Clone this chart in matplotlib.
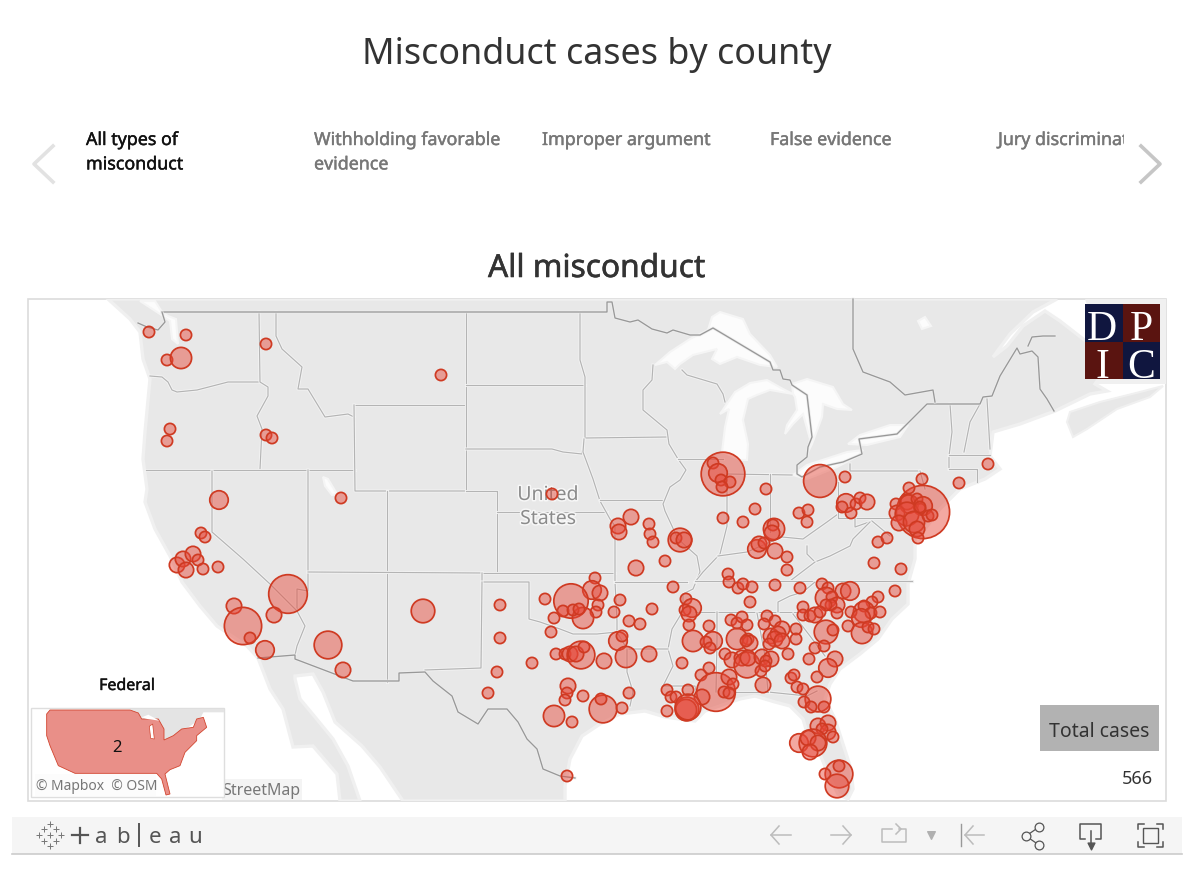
import numpy as np
import matplotlib
matplotlib.use("Agg")
import matplotlib.pyplot as plt
from matplotlib.patches import Polygon, Rectangle
import matplotlib.patheffects as pe

plt.rcParams['font.family'] = ['Noto Sans', 'DejaVu Sans']

# ---------- data ----------
chart_title = "Misconduct cases by county"
map_title = "All misconduct"
tabs = ["All types of\nmisconduct", "Withholding favorable\nevidence", "Improper argument",
        "False evidence", "Jury discrimination"]
total_cases = "566"
federal_cases = "2"

county_x = [149,186,167,181,266,170,167,266,272,219,341,201,205,441,
            177,183,186,193,198,203,218,288,234,274,243,250,265,328,343,423,
            552,631,618,619,649,650,653,680,676,684,665,636,673,595,592,600,545,571,598,596,583,563,573,579,554,
            620,614,652,629,640,500,500,551,618,622,556,565,570,581,576,584,604,626,649,532,497,682,568,567,565,
            583,629,488,603,601,622,554,572,567,
            686,692,685,689,689,709,693,713,706,710,728,729,738,743,752,750,775,800,822,828,843,850,895,878,872,
            826,832,837,831,826,837,803,803,810,815,820,864,864,851,871,880,861,848,862,868,874,
            731,737,742,747,737,748,750,746,767,775,764,782,771,778,775,782,769,796,796,826,833,815,824,788,809,
            835,828,817,725,732,742,747,748,762,771,766,761,765,709,701,716,729,733,724,729,702,763,
            667,671,676,688,687,686,688,667,791,794,797,803,818,804,811,824,818,828,828,822,833,799,813,808,818,810,
            839,839,825,837,
            723,713,718,721,730,722,723,820,766,755,743,774,773,772,799,808,807,845,846,842,851,856,860,867,
            757,759,764,775,787,787,878,887,874,901,922,959,988,
            923,909,896,907,909,917,923,920,897,907,899,914,917,918,928,932,920]
county_y = [333,336,361,359,345,430,442,436,439,501,499,534,538,376,
            566,560,571,555,561,570,568,595,607,616,627,639,651,646,671,612,
            495,518,527,533,525,535,543,541,539,541,562,569,588,579,591,594,600,602,606,613,619,612,611,610,619,
            601,613,610,622,625,606,639,633,642,637,655,655,655,656,655,648,662,658,655,664,673,664,687,694,701,
            697,694,694,710,700,709,717,723,777,
            600,609,611,615,626,627,642,642,643,649,575,583,589,585,588,603,586,589,585,589,592,592,592,598,603,
            599,598,606,606,606,614,608,616,617,616,613,613,607,613,614,613,619,627,634,628,630,
            621,624,618,626,640,640,644,642,617,622,625,630,637,635,640,642,645,630,640,633,631,649,647,655,660,
            660,669,678,655,661,659,666,659,658,660,662,672,667,669,676,693,678,685,693,694,698,686,
            691,698,698,691,710,711,708,712,679,676,688,690,700,703,708,708,727,724,733,730,738,744,744,739,744,753,
            775,767,775,787,
            475,464,474,481,483,488,519,482,490,510,523,530,526,534,514,511,523,478,504,508,514,505,499,503,
            550,545,544,552,558,571,543,539,564,570,480,484,465,
            513,489,505,503,505,500,507,510,514,515,524,523,530,539,517,516,508]
county_cases = [1,1,1,4,1,1,1,1,1,3,1,1,1,1,
                2,2,2,2,1,1,1,14,2,2,13,1,3,7,2,5,
                1,2,2,2,1,1,1,5,1,2,1,2,1,1,3,2,1,11,1,1,4,1,1,1,1,
                1,1,1,1,1,1,1,1,3,1,1,1,2,7,2,1,2,4,2,1,1,1,2,1,1,
                1,1,1,7,1,1,4,1,1,
                1,3,1,2,1,1,4,3,1,1,1,1,1,1,1,1,1,1,1,1,2,3,1,1,1,
                4,1,2,1,1,1,1,1,1,2,1,4,1,1,1,1,3,1,4,1,1,
                1,1,1,1,4,1,2,1,1,1,1,2,2,2,2,2,1,1,1,5,1,1,1,1,1,
                2,3,1,1,2,2,6,2,2,2,1,1,1,1,1,14,2,1,1,1,2,2,
                1,1,1,1,5,4,6,1,1,1,1,1,6,1,1,1,2,2,2,1,1,3,7,2,2,2,
                7,1,1,5,
                18,1,3,1,1,1,1,10,1,1,1,4,1,2,1,1,1,1,3,1,1,1,1,2,
                3,2,1,2,1,1,1,1,1,1,1,1,1,
                27,1,1,2,3,1,3,1,2,5,2,4,2,1,1,1,1]

# base-map geography, in projected map units
land_outline = [(108,300),(130,320),(140,333),(143,360),(150,380),(145,433),(143,460),(147,490),(145,503),(155,530),
    (170,557),(182,583),(200,607),(217,627),(247,647),(258,659),(270,690),(283,710),(293,748),(313,747),(337,775),
    (340,802),(360,802),(348,767),(333,740),(315,718),(300,700),(295,680),(295,677),(313,675),(323,693),(335,723),
    (362,747),(380,768),(403,802),(565,802),(565,787),(570,760),(582,737),(600,725),(620,715),(645,712),(665,718),
    (680,720),(695,722),(705,712),(725,705),(740,700),(755,697),(775,703),(790,707),(803,720),(808,737),(820,755),
    (828,775),(838,795),(848,800),(853,790),(851,770),(843,745),(835,720),(825,700),(830,685),(840,670),(860,655),
    (878,640),(892,620),(908,605),(908,585),(915,560),(915,540),(925,530),(940,510),(960,490),(985,480),(1000,470),
    (990,457),(993,433),(1020,425),(1055,412),(1090,395),(1107,392),(1095,385),(1100,378),(1110,345),(1087,343),
    (1060,322),(1045,312),(1023,327),(1007,347),(993,358),(1010,335),(1033,313),(1057,300)]
nova_scotia = [(1067,423),(1070,413),(1100,403),(1140,393),(1163,387),(1150,398),(1117,410),(1087,430),(1073,438)]
pale_canada = [(1085,300),(1166,300),(1166,385),(1097,385),(1100,345)]
superior = [(655,366),(670,353),(690,340),(708,331),(712,318),(720,313),(743,320),(750,335),(770,356),(777,368),
    (760,366),(737,358),(720,365),(712,360),(717,350),(693,356),(680,365),(675,370),(667,363)]
michigan = [(722,453),(725,428),(729,410),(720,415),(735,393),(750,384),(767,381),(783,390),(793,395),(770,391),
    (757,396),(748,400),(743,421),(748,445),(747,461),(740,461),(727,455)]
huron = [(793,395),(792,385),(807,380),(833,388),(843,405),(852,411),(837,410),(823,405),(822,418),(812,445),
    (807,455),(810,440),(803,415),(793,425),(785,435),(787,426),(797,411),(795,398)]
erie = [(793,476),(807,466),(847,453),(863,451),(858,457),(837,468),(820,475),(807,480)]
ontario = [(848,445),(860,436),(890,426),(908,426),(900,438),(867,446)]
salt_lake = [(323,478),(328,480),(337,495),(332,496),(325,487)]
puget = [(140,302),(155,302),(162,313),(168,317),(176,320),(178,345),(172,340),(170,322),(160,315)]
upper_water = [(918,322),(925,318),(931,327),(922,330)]

intl_borders = [
    [(162,313),(607,313),(607,303),(612,303),(615,319),(630,323),(638,321),(652,330),(667,334),(673,331),(690,336),
     (700,336),(713,329),(770,363),(773,371),(780,371),(783,380),(790,381),(792,386),(807,396),(812,438),(808,448),
     (807,458),(797,466),(797,475),(802,478),(820,468),(843,463),(862,455),(859,440),(897,435),(927,405),(980,405),
     (983,398),(992,397),(1000,377),(1017,349),(1020,355),(1032,352),(1038,358),(1040,390),(1047,400),(1054,412)],
    [(138,324),(147,328),(158,331),(165,323),(162,313)],
    [(258,659),(295,656),(295,660),(353,682),(387,682),(399,682),(399,674),(425,673),(433,682),(452,697),(458,713),
     (478,725),(488,710),(507,710),(518,723),(527,740),(537,750),(543,770),(560,777),(575,779)],
    [(853,300),(853,350),(863,373),(890,383),(905,396),(933,391),(935,403)],
    [(1028,347),(1032,338),(1043,337),(1055,337)],
]
state_borders = [
    [(150,377),(162,378),(168,383),(172,391),(177,393),(197,391),(228,383),(260,383)],
    [(259,313),(260,383),(268,388),(268,397),(257,417),(262,430),(260,470)],
    [(146,471),(355,471)],
    [(276,313),(276,337),(282,350),(302,368),(298,390),(308,390),(325,418),(348,415),(354,418)],
    [(354,406),(466,406)], [(354,406),(355,492),(466,492)], [(466,313),(466,492)],
    [(466,386),(585,386)], [(466,450),(552,450),(563,453),(582,455),(584,440)],
    [(466,492),(497,492),(497,574)], [(497,513),(607,513)], [(387,492),(387,683)],
    [(308,471),(308,592),(297,590),(297,612)], [(308,573),(482,574)], [(482,574),(615,574)],
    [(482,574),(482,583),(529,583),(529,620),(540,623),(560,630),(573,635),(597,635),(617,633),(617,622),(615,583)],
    [(482,583),(481,669),(425,671)],
    [(212,472),(212,533),(243,560),(270,585),(297,612),(305,627),(297,647),(295,656)],
    [(580,313),(580,361),(585,378),(585,439),(667,438)],
    [(584,440),(583,453),(593,480),(600,502),(610,520),(615,527),(615,583)],
    [(600,501),(662,501)],
    [(653,366),(652,381),(643,391),(643,411),(667,431),(669,445),(678,460),(686,471),(680,481),(670,488),(663,505),
     (665,512),(678,540),(697,557),(700,573),(693,590),(683,595),(683,612),(672,630),(668,650),(673,667),(663,687),(695,687),(697,697)],
    [(682,371),(687,376),(717,385),(723,395),(725,403)], [(678,460),(723,460)],
    [(615,583),(687,583)], [(617,633),(627,650),(668,650)], [(627,650),(627,673),(633,693),(630,707)],
    [(727,475),(727,527),(720,555),(703,573),(695,583)], [(727,475),(792,476)], [(770,475),(770,533)],
    [(718,557),(747,553),(782,538),(803,540),(810,535),(827,523),(838,515)],
    [(838,483),(838,519),(890,519)], [(850,465),(850,472),(920,472),(928,480)],
    [(855,519),(855,528),(872,522),(890,537)], [(807,547),(807,555),(815,563),(830,557),(850,547),(853,540),(870,523)],
    [(815,563),(790,582)], [(695,582),(912,582)], [(695,613),(797,613)],
    [(778,613),(778,603),(790,597),(803,593),(815,583)], [(793,615),(810,637),(825,657)],
    [(757,614),(765,657),(768,693),(807,697),(817,692)], [(717,613),(717,640),(716,693)], [(735,693),(768,693)],
    [(950,405),(952,433),(949,457),(949,470)], [(980,405),(970,423),(964,453)], [(949,456),(990,456)],
    [(949,470),(977,470),(977,483)], [(987,400),(990,450)], [(920,472),(925,490)],
]

# ---------- page ----------
fig = plt.figure(figsize=(12, 8.79), dpi=100, facecolor="white")
ax = fig.add_axes([0, 0, 1, 1])
ax.set_xlim(0, 1200)
ax.set_ylim(879, 0)
ax.axis("off")

ax.text(597, 55, chart_title, ha="center", va="center", fontsize=25.8, color="#333333")
ax.text(597, 270, map_title, ha="center", va="center", fontsize=22.8, color="#333333",
        path_effects=[pe.withStroke(linewidth=0.4, foreground="#333333")])

tab_x = [86, 314, 542, 770, 998]
tab_colors = ["#111111", "#777777", "#777777", "#777777", "#777777"]
for label, tx, tc in zip(tabs, tab_x, tab_colors):
    ax.text(tx, 132, label, ha="left", va="top", fontsize=12.85, color=tc, linespacing=1.46,
            path_effects=[pe.withStroke(linewidth=0.3, foreground=tc)])
ax.add_patch(Rectangle((1124, 125), 60, 30, fc="white", ec="none", zorder=3))
ax.plot([53, 34, 53], [147, 165, 183], color="#e2e2e2", lw=2.6, zorder=4)
ax.plot([1141, 1160, 1141], [147, 165, 183], color="#c6c6c6", lw=2.6, zorder=4)

# ---------- map ----------
frame = Rectangle((28, 300), 1138, 502, fc="white", ec="#dcdcdc", lw=1.2, zorder=1)
ax.add_patch(frame)
LAND = "#e8e8e8"
clip = Rectangle((28, 300), 1138, 502, transform=ax.transData)


def add_poly(pts, fc, z=1.2, ec="none", lw=0):
    p = Polygon(pts, closed=True, fc=fc, ec=ec, lw=lw, zorder=z)
    ax.add_patch(p)
    p.set_clip_path(clip)
    return p


add_poly(pale_canada, "#f0f0f0", 1.15)
add_poly(land_outline, LAND, 1.2, ec="#f0f0f0", lw=2.4)
add_poly(nova_scotia, LAND, 1.2, ec="#f0f0f0", lw=1.5)
for lake in (superior, michigan, huron, erie, ontario, salt_lake, puget, upper_water):
    add_poly(lake, "#fcfcfc", 1.3, ec="#f5f5f5", lw=1.5)

for seg in state_borders:
    xs, ys = zip(*seg)
    ax.plot(xs, ys, color="#b4b4b4", lw=0.85, zorder=1.5, solid_joinstyle="round",
            path_effects=[pe.Stroke(linewidth=2.2, foreground="#f3f3f3"), pe.Normal()])
for seg in intl_borders:
    xs, ys = zip(*seg)
    ax.plot(xs, ys, color="#989898", lw=0.95, zorder=1.6, solid_joinstyle="round",
            path_effects=[pe.Stroke(linewidth=2.0, foreground="#eeeeee"), pe.Normal()])

for yy, word in zip((496, 520), ("United", "States")):
    ax.text(548, yy, word, ha="center", va="center", fontsize=14, color="#8b8b8b", zorder=1.8,
            path_effects=[pe.withStroke(linewidth=2.2, foreground="#f7f7f7")])

# county bubbles: area proportional to cases
radius_px = 5.0 * np.sqrt(np.array(county_cases, dtype=float)) + 0.6
sizes = (2 * radius_px * 72 / fig.dpi) ** 2
ax.scatter(county_x, county_y, s=sizes, facecolor=(0.90, 0.28, 0.22, 0.47),
           edgecolor="#cf3a22", linewidth=1.25, zorder=2)

# logo
for (lx, ly, c) in [(1085, 305, "#10163f"), (1122.5, 305, "#5a1410"), (1085, 342.5, "#5a1410"), (1122.5, 342.5, "#10163f")]:
    ax.add_patch(Rectangle((lx, ly), 37.5, 37.5, fc=c, ec="none", zorder=3))
for (lx, ly, s) in [(1102, 325, "D"), (1141, 325, "P"), (1102, 363, "I"), (1141, 363, "C")]:
    ax.text(lx, ly, s, ha="center", va="center_baseline", fontsize=30, color="white", family="Liberation Serif", zorder=4)

# total box
ax.add_patch(Rectangle((1040, 706), 119, 46, fc="#b2b2b2", ec="none", zorder=3))
ax.text(1099.5, 732, "Total cases", ha="center", va="center", fontsize=14, color="#333333", zorder=4)
ax.text(1153, 779, total_cases, ha="right", va="center", fontsize=13, color="#333333", zorder=4)

# attribution and inset
ax.add_patch(Rectangle((222, 780), 80, 21, fc="#f4f4f4", ec="none", zorder=2.5))
ax.text(222, 791, "StreetMap", ha="left", va="center", fontsize=11.5, color="#777777", zorder=3)
ax.text(127, 687, "Federal", ha="center", va="center", fontsize=11.5, color="#111111", zorder=4,
        path_effects=[pe.withStroke(linewidth=0.3, foreground="#111111")])
ax.add_patch(Rectangle((31, 709), 193, 89, fc="white", ec="#dedede", lw=1, zorder=3))


def ins(points):
    return [(30 + a / 3, 540 + b / 3) for a, b in points]


inset_canada = [(45,510),(582,510),(582,520),(520,520),(510,540),(440,590),(395,605),(300,510)]
inset_usa = [(50,525),(60,513),(300,513),(325,522),(335,540),(385,540),(402,570),(402,603),(430,590),
             (455,570),(490,565),(500,540),(520,535),(530,565),(500,590),(500,605),(465,640),(450,680),(420,692),(405,705),
             (420,765),(408,768),(395,720),(380,703),(135,703),(85,680),(60,620),(50,590)]
inset_lake = [(358,562),(368,555),(373,600),(362,598)]
inset_superior = [(335,535),(355,527),(388,545),(352,540)]
ax.add_patch(Polygon(ins(inset_canada), fc="#e4e4e4", ec="none", zorder=3.1))
ax.add_patch(Polygon(ins(inset_usa), fc="#e98f88", ec="#d2452f", lw=0.6, zorder=3.2))
ax.add_patch(Polygon(ins(inset_lake), fc="white", ec="#d2452f", lw=0.5, zorder=3.3))
ax.add_patch(Polygon(ins(inset_superior), fc="white", ec="none", zorder=3.3))
ax.text(117, 748, federal_cases, ha="center", va="center", fontsize=12, color="#111111", zorder=4)
ax.add_patch(Rectangle((35, 775), 121, 22, fc="#fcfcfc", ec="none", zorder=3.5))
ax.text(36, 787, "© Mapbox  © OSM", ha="left", va="center", fontsize=10, color="#777777", zorder=4)

# ---------- toolbar ----------
ax.add_patch(Rectangle((12, 818), 1170, 37, fc="#f5f5f5", ec="none", zorder=1))
ax.plot([12, 1182], [855.5, 855.5], color="#cccccc", lw=1.2, zorder=1.1)
mark_xy = [(50,825),(50,836),(50,847),(44,830),(56,830),(44,842),(56,842),(39,836),(61,836)]
mxs, mys = zip(*mark_xy)
ax.scatter(mxs, mys, marker="+", s=22, color="#777777", linewidth=0.7, zorder=2)
for x_, ch in zip([101, 123, 155, 175, 195], "abeau"):
    ax.text(x_, 838, ch, ha="center", va="center", fontsize=16, color="#555555", zorder=2)
ax.plot([80, 80], [829, 844], color="#555555", lw=1.6, zorder=2)
ax.plot([72, 88], [836, 836], color="#555555", lw=1.6, zorder=2)
ax.plot([139, 139], [825, 847], color="#555555", lw=1.4, zorder=2)

G = "#bcbcbc"
D = "#555555"
ax.plot([771, 791], [836, 836], color=G, lw=1.1, zorder=2)
ax.plot([779, 771, 779], [827, 836, 845], color=G, lw=1.1, zorder=2)
ax.plot([831, 851], [836, 836], color=G, lw=1.1, zorder=2)
ax.plot([843, 851, 843], [827, 836, 845], color=G, lw=1.1, zorder=2)
ax.plot([899, 906, 906, 882, 882, 892], [830, 830, 843, 843, 830, 830], color=G, lw=1.1, zorder=2)
ax.plot([896, 901, 896], [825, 830, 835], color=G, lw=1.1, zorder=2)
ax.scatter([931], [836], marker="v", s=30, color="#b0b0b0", zorder=2)
ax.plot([961, 961], [825, 847], color="#999999", lw=1, zorder=2)
ax.plot([965, 984], [836, 836], color=G, lw=1.1, zorder=2)
ax.plot([973, 965, 973], [827, 836, 845], color=G, lw=1.1, zorder=2)
ax.scatter([1039, 1026, 1039], [828, 837, 846], s=40, facecolor="#f5f5f5", edgecolor=D, linewidth=0.9, zorder=3)
ax.plot([1039, 1026, 1039], [828, 837, 846], color=D, lw=0.9, zorder=2)
ax.plot([1085, 1080, 1080, 1101, 1101, 1096], [840, 840, 825, 825, 840, 840], color=D, lw=1.1, zorder=2)
ax.plot([1090.5, 1090.5], [832, 846], color=D, lw=1.1, zorder=2)
ax.scatter([1090.5], [847], marker="v", s=24, color=D, zorder=2)
ax.add_patch(Rectangle((1143, 829), 15, 15, fc="none", ec=D, lw=1, zorder=2))
for cx, cy, dx, dy in [(1138, 825, 1, 1), (1163, 825, -1, 1), (1138, 848, 1, -1), (1163, 848, -1, -1)]:
    ax.plot([cx, cx, cx + 6 * dx], [cy + 5 * dy, cy, cy], color=D, lw=1.1, zorder=2)

fig.savefig("out.png", dpi=100, facecolor="white")
assert len(county_x) == len(county_y) == len(county_cases), (len(county_x), len(county_y), len(county_cases))
